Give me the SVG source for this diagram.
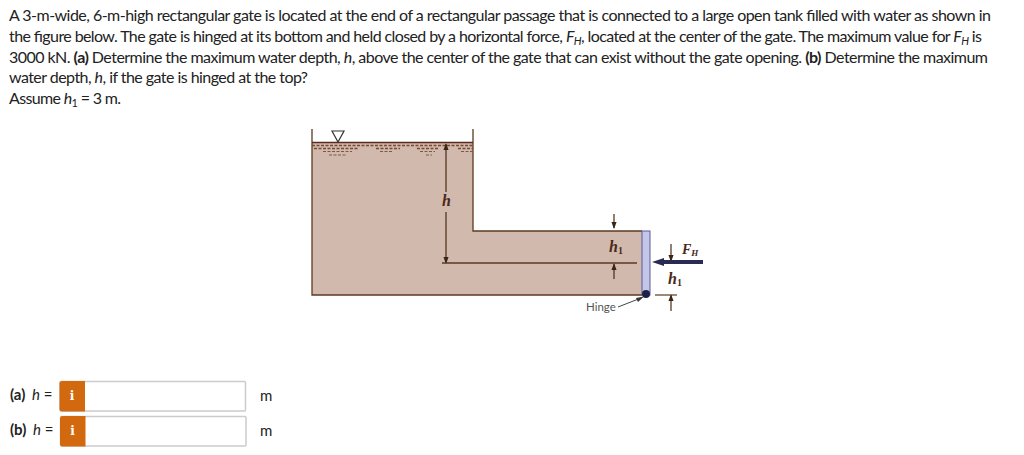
<svg xmlns="http://www.w3.org/2000/svg" width="1024" height="455" viewBox="0 0 1024 455">
<style>
text{font-family:Lato,"Open Sans",sans-serif;fill:#222}
.q{font-size:16px}
.a{font-size:15px}
.s{font-family:"Liberation Serif",serif;font-style:italic;font-weight:bold;fill:#4a2a1a;font-size:16px}
.sub{font-style:normal;font-size:10px}
.w{stroke:#5c3a20;stroke-width:1.3;fill:none}
.d{stroke:#4a2a15;stroke-width:1.2;fill:none}
.r{stroke:#7a4a30;stroke-width:1.3;stroke-dasharray:3 1.5;fill:none}
.r2{stroke:#7a5a45;stroke-width:1;fill:none}
.box{fill:#fff;stroke:#ccc;stroke-width:1.5}
.or{fill:#d2690f}
.i{font-family:"DejaVu Serif",serif;font-weight:bold;font-size:12px;fill:#fff}
</style>
<defs>
<marker id="ah" viewBox="0 0 8 8" refX="7" refY="4" markerWidth="7" markerHeight="7" orient="auto" markerUnits="userSpaceOnUse"><path d="M0 1L8 4L0 7Z" fill="#3a2515"/></marker>
</defs>
<g id="question">
<text class="q" x="9" y="21" textLength="982" lengthAdjust="spacing">A 3-m-wide, 6-m-high rectangular gate is located at the end of a rectangular passage that is connected to a large open tank filled with water as shown in</text>
<text class="q" x="9" y="42" textLength="973" lengthAdjust="spacing">the figure below. The gate is hinged at its bottom and held closed by a horizontal force, <tspan font-style="italic">F<tspan font-size="11" dy="3">H</tspan></tspan><tspan dy="-3">, located at the center of the gate. The maximum value for </tspan><tspan font-style="italic">F<tspan font-size="11" dy="3">H</tspan></tspan><tspan dy="-3"> is</tspan></text>
<text class="q" x="9" y="63" textLength="979" lengthAdjust="spacing">3000 kN. <tspan font-weight="bold">(a)</tspan> Determine the maximum water depth, <tspan font-style="italic">h</tspan>, above the center of the gate that can exist without the gate opening. <tspan font-weight="bold">(b)</tspan> Determine the maximum</text>
<text class="q" x="9" y="83" textLength="299" lengthAdjust="spacing">water depth, <tspan font-style="italic">h</tspan>, if the gate is hinged at the top?</text>
<text class="q" x="9" y="104" textLength="112" lengthAdjust="spacing">Assume <tspan font-style="italic">h</tspan><tspan font-size="11" dy="3">1</tspan><tspan dy="-3"> = 3 m.</tspan></text>
</g>
<g id="tank">
<path d="M312 143H473V231H642V295H312Z" fill="#d1b9ae"/>
<path class="w" d="M312 129V295H642"/>
<path class="w" d="M473 129V231H642"/>
</g>
<g id="surface">
<path d="M312 142.500H473" stroke="#5a2a20" stroke-width="1.500"/>
<path class="r" d="M312 145.500H473"/>
<path class="r" d="M314 148.500H358M376 148.500H400M417 148.500H438M458 148.500H473" stroke-width="1"/>
<path class="r2" stroke-dasharray="3 1.500" d="M323 151.500H352M380 151.500H393M420 151.500H435M461 151.500H473"/>
<path class="r2" stroke-dasharray="3 1.500" d="M329 155H346M426 155H432"/>
<path d="M332 131H344L338 142Z" fill="#fff" stroke="#333" stroke-width="1.200"/>
</g>
<g id="connectors">
<path class="d" d="M446 212V263" marker-end="url(#ah)"/>
<path class="d" d="M446 192V144" marker-end="url(#ah)"/>
<path stroke="#5c3a20" stroke-width="1.300" d="M442 263H637"/>
<path class="d" d="M614 214V228" marker-end="url(#ah)"/>
<path class="d" d="M614 279V264" marker-end="url(#ah)"/>
<path class="d" d="M671 244V261" marker-end="url(#ah)"/>
<path class="d" d="M671 311V295" marker-end="url(#ah)"/>
<path stroke="#5c3a20" stroke-width="1.200" d="M655 295H677"/>
<path stroke="#2a2a55" stroke-width="4" d="M703 262H660"/>
<path d="M652 262L664 258V266Z" fill="#2a2a55"/>
<path stroke="#444" stroke-width="1" d="M618 307L641 298"/>
<path d="M644 296.500L636 298L638 302Z" fill="#333"/>
</g>
<g id="gate">
<rect x="642" y="231" width="8" height="64" fill="#c3c6e6" stroke="#5a5aa0" stroke-width="1"/>
<circle cx="646" cy="294" r="4" fill="#1c2048"/>
</g>
<g id="labels">
<text class="s" x="442" y="206">h</text>
<text class="s" x="609" y="252">h<tspan class="sub" dy="2">1</tspan></text>
<text class="s" x="668" y="284">h<tspan class="sub" dy="2">1</tspan></text>
<text class="s" x="682" y="254" font-size="14" style="font-size:14px">F<tspan class="sub" font-style="italic" style="font-style:italic;font-size:9px" dy="2">H</tspan></text>
<text x="586" y="311" font-size="11.500" style="fill:#555">Hinge</text>
</g>
<g id="answer-a">
<text class="a" x="10" y="400"><tspan font-weight="bold">(a)</tspan>  <tspan font-style="italic" x="32">h</tspan> =</text>
<rect class="box" x="60" y="381.500" width="185.500" height="29.500" rx="1"/>
<path class="or" d="M62 381H85V411.500H62Q59.500 411.500 59.500 409V383.500Q59.500 381 62 381Z"/>
<text class="i" x="72" y="400" text-anchor="middle">i</text>
<text class="a" x="260" y="401">m</text>
</g>
<g id="answer-b">
<text class="a" x="10" y="435"><tspan font-weight="bold">(b)</tspan>  <tspan font-style="italic" x="33">h</tspan> =</text>
<rect class="box" x="60.500" y="416.500" width="185.500" height="29.500" rx="1"/>
<path class="or" d="M62.500 416H85.500V446.500H62.500Q60 446.500 60 444V418.500Q60 416 62.500 416Z"/>
<text class="i" x="72.500" y="435" text-anchor="middle">i</text>
<text class="a" x="260" y="436">m</text>
</g>
</svg>
